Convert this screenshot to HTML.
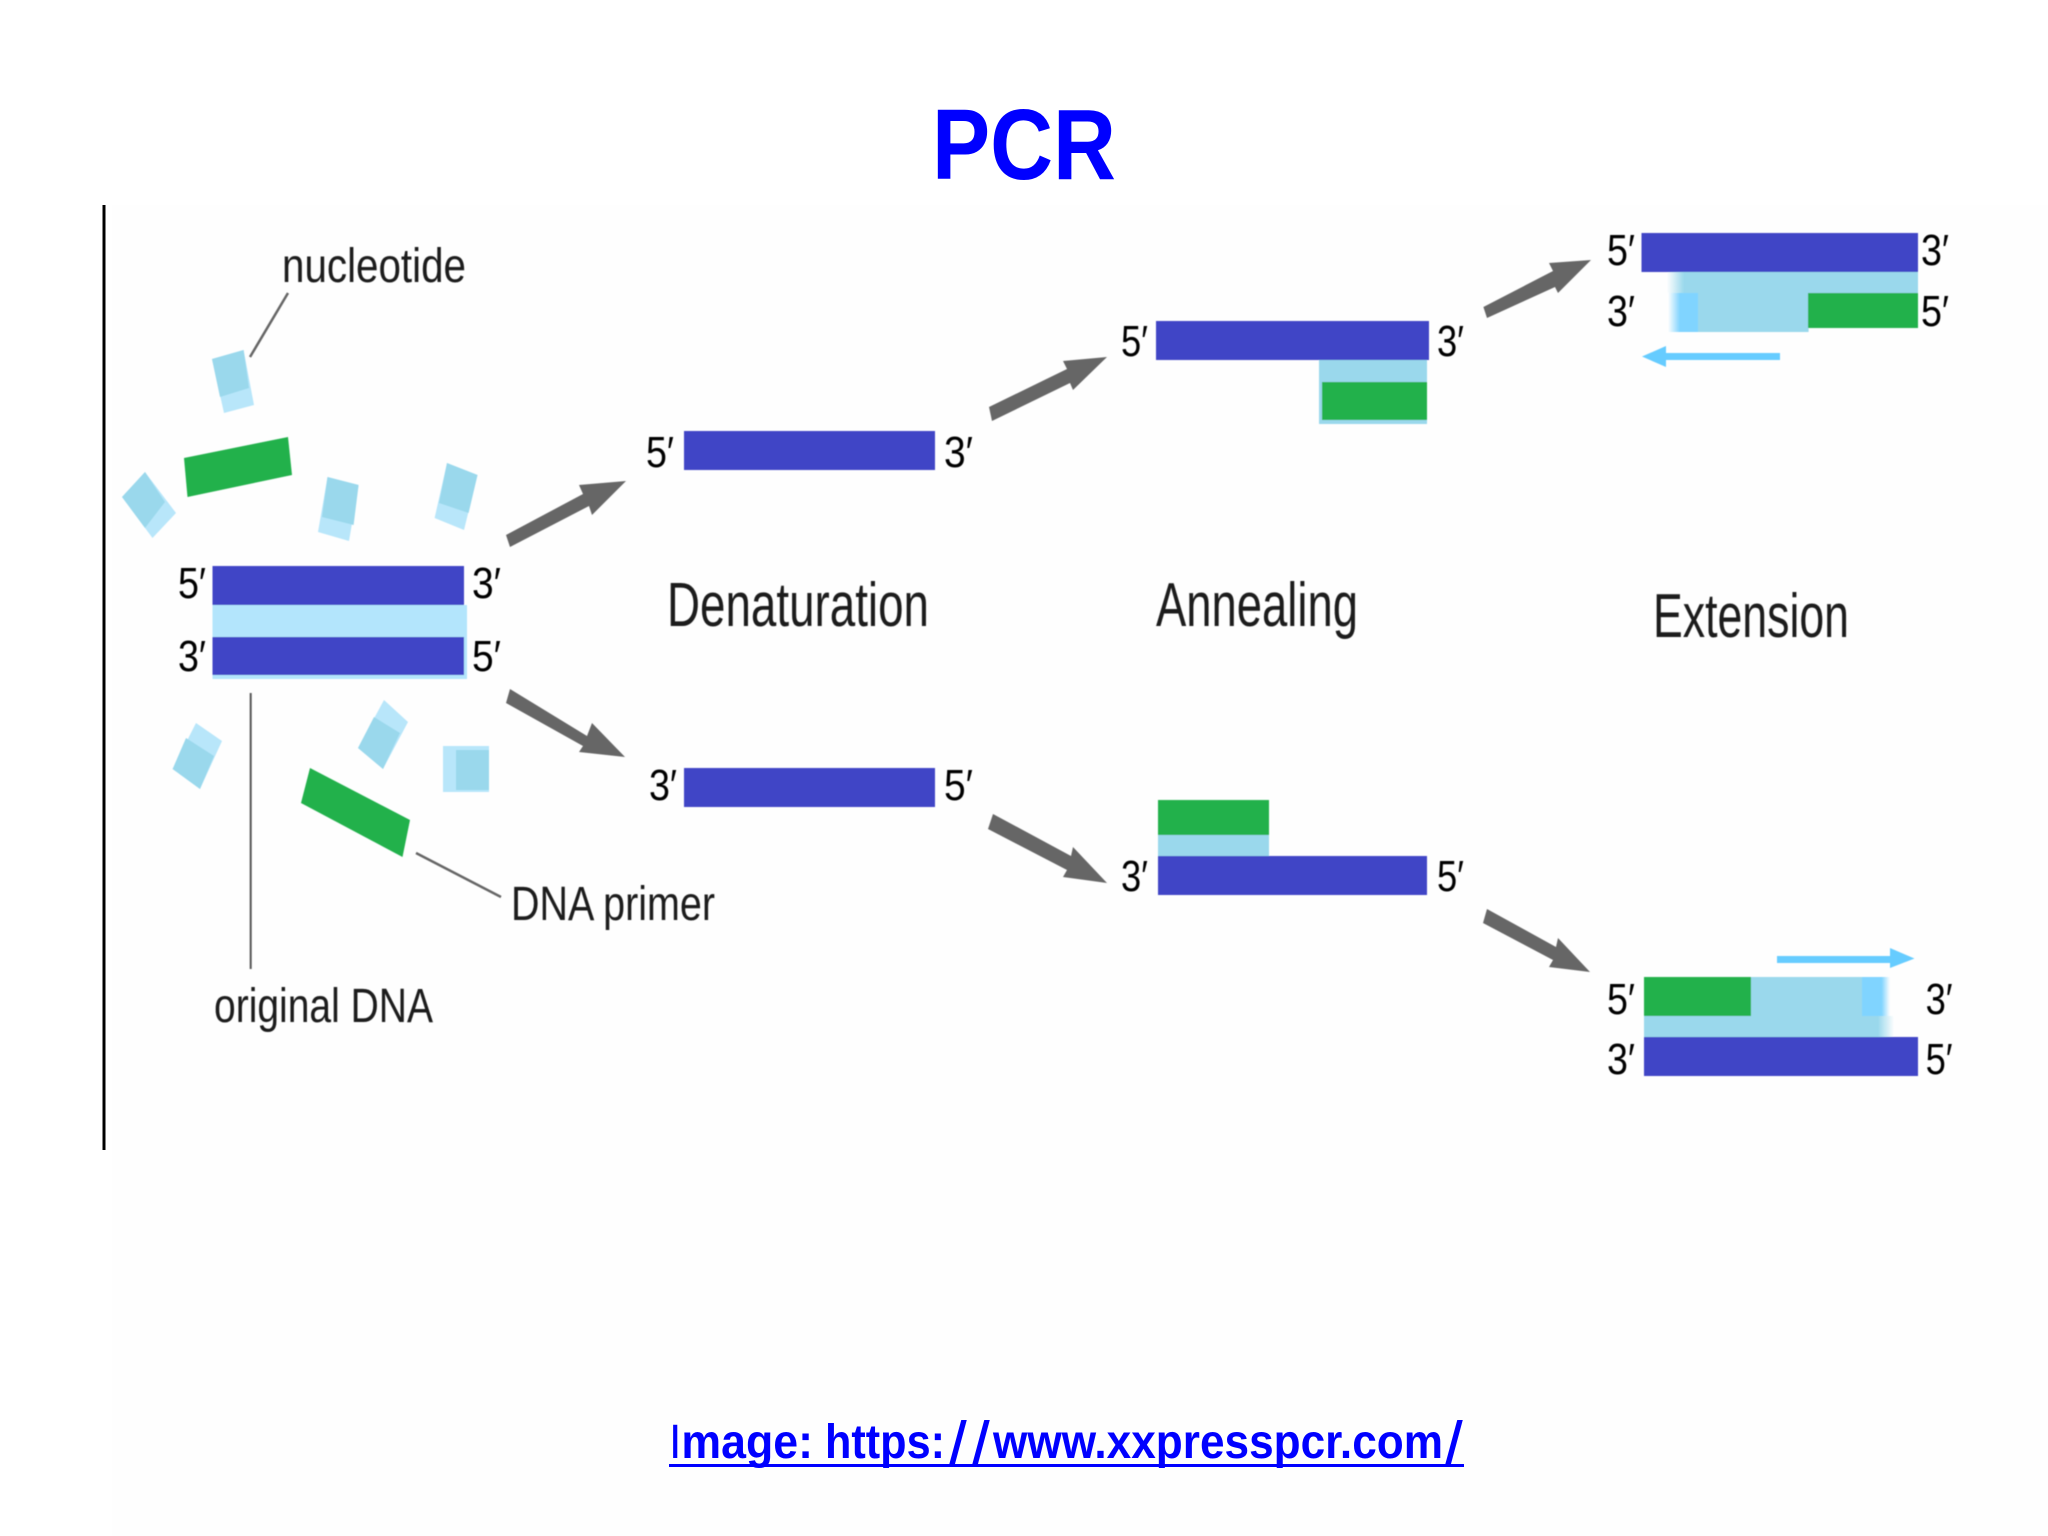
<!DOCTYPE html>
<html>
<head>
<meta charset="utf-8">
<title>PCR</title>
<style>
html,body{margin:0;padding:0;background:#fff;width:2048px;height:1536px;overflow:hidden}
svg{display:block}
text{font-family:"Liberation Sans",sans-serif}
.d{font-size:44px;fill:#000}
.l{font-size:48px;fill:#1c1c1c}
.h{font-size:62px;fill:#1c1c1c}
.u{font-size:48px;font-weight:bold;fill:#0000ff}
.s{font-size:58px;font-weight:normal;fill:#0000ff;stroke:#0000ff;stroke-width:1}
</style>
</head>
<body>
<svg width="2048" height="1536" viewBox="0 0 2048 1536" xmlns="http://www.w3.org/2000/svg">
<defs>
<linearGradient id="fl" x1="0" x2="1" y1="0" y2="0"><stop offset="0" stop-color="#9ad8ec" stop-opacity="0"/><stop offset="1" stop-color="#9ad8ec"/></linearGradient>
<linearGradient id="fr" x1="0" x2="1" y1="0" y2="0"><stop offset="0" stop-color="#9ad8ec"/><stop offset="1" stop-color="#9ad8ec" stop-opacity="0"/></linearGradient>
<linearGradient id="nl" x1="0" x2="1" y1="0" y2="0"><stop offset="0" stop-color="#80d4ff" stop-opacity="0"/><stop offset=".4" stop-color="#80d4ff"/><stop offset="1" stop-color="#80d4ff"/></linearGradient>
<linearGradient id="nr" x1="0" x2="1" y1="0" y2="0"><stop offset="0" stop-color="#80d4ff"/><stop offset=".7" stop-color="#80d4ff"/><stop offset="1" stop-color="#80d4ff" stop-opacity="0"/></linearGradient>
<filter id="b" x="-5%" y="-5%" width="110%" height="110%"><feGaussianBlur stdDeviation="0.6"/></filter>
</defs>

<rect width="2048" height="1536" fill="#fff"/>
<rect x="112" y="205" width="1936" height="1331" fill="#fefefe"/>

<!-- title -->
<text x="932" y="179" textLength="184" lengthAdjust="spacingAndGlyphs" style="font-size:100px;font-weight:bold;fill:#0000ff">PCR</text>

<!-- frame line -->
<rect x="102.500" y="205" width="3" height="945" fill="#000"/>

<g filter="url(#b)">
<!-- nucleotides -->
<polygon points="212,359 243.600,350 254,405 224,413" fill="#b8e6fa"/>
<polygon points="212,359 243.600,350 249,388 220,397" fill="#9ad8ec"/>

<polygon points="145,472 176,513 152.500,538 122,497" fill="#b8e6fa"/>
<polygon points="145,472 165,502 145,528 122,497" fill="#9ad8ec"/>

<polygon points="327.500,477 358.600,485 349,541 318,532" fill="#b8e6fa"/>
<polygon points="327.500,477 358.600,485 353.600,525 322,517" fill="#9ad8ec"/>

<polygon points="447,463 477.500,475 464,530 434.600,518" fill="#b8e6fa"/>
<polygon points="447,463 477.500,475 468.600,513 439,503" fill="#9ad8ec"/>

<polygon points="196,723 222,741 200,789 172.600,769" fill="#b8e6fa"/>
<polygon points="186,738 214,756 200,789 172.600,769" fill="#9ad8ec"/>

<polygon points="384,700 408,722 383,769 358,748" fill="#b8e6fa"/>
<polygon points="374,717 400,733 383,769 358,748" fill="#9ad8ec"/>

<rect x="443" y="746" width="46" height="46" fill="#b8e6fa"/>
<rect x="456" y="750" width="33" height="40" fill="#9ad8ec"/>

<!-- free primers -->
<polygon points="184,458 288,437 292,475 187.500,497" fill="#22b14c"/>
<polygon points="310,768 410,820 402.500,857 301,803" fill="#22b14c"/>

<!-- leader lines -->
<line x1="288" y1="293" x2="250" y2="357" stroke="#666" stroke-width="2.500"/>
<line x1="416" y1="853" x2="501" y2="897" stroke="#666" stroke-width="2.500"/>
<line x1="250.700" y1="693" x2="250.700" y2="969" stroke="#555" stroke-width="2"/>

<!-- original DNA -->
<rect x="212.500" y="605" width="254.500" height="74" fill="#b3e5fc"/>
<rect x="212.500" y="566" width="251.500" height="39" fill="#4045c6"/>
<rect x="212.500" y="637" width="251.500" height="38" fill="#4045c6"/>

<!-- denaturation -->
<rect x="684" y="431" width="251" height="39" fill="#4045c6"/>
<rect x="684" y="768" width="251" height="39" fill="#4045c6"/>

<!-- annealing top -->
<rect x="1319" y="360" width="108" height="64" fill="#9ad8ec"/>
<rect x="1322" y="382" width="105" height="38" fill="#22b14c"/>
<rect x="1156" y="321" width="273" height="39" fill="#4045c6"/>

<!-- annealing bottom -->
<rect x="1158" y="800" width="111" height="35" fill="#22b14c"/>
<rect x="1158" y="835" width="111" height="21" fill="#9ad8ec"/>
<rect x="1158" y="856" width="269" height="39" fill="#4045c6"/>

<!-- extension top -->
<rect x="1684" y="272" width="234" height="21" fill="#9ad8ec"/>
<rect x="1667" y="272" width="17" height="21" fill="url(#fl)"/>
<rect x="1697.600" y="293" width="111" height="39" fill="#9ad8ec"/>
<rect x="1668" y="293" width="30" height="39" fill="url(#nl)"/>
<rect x="1808" y="293" width="110" height="35" fill="#22b14c"/>
<rect x="1641.500" y="233" width="276.500" height="39" fill="#4045c6"/>
<!-- blue arrow top -->
<rect x="1660" y="353" width="120" height="7" fill="#66ccff"/>
<polygon points="1642,356.500 1666,346 1666,367" fill="#66ccff"/>

<!-- extension bottom -->
<rect x="1751" y="977" width="112" height="39" fill="#9ad8ec"/>
<rect x="1644" y="1016" width="234" height="21" fill="#9ad8ec"/>
<rect x="1878" y="1016" width="16" height="21" fill="url(#fr)"/>
<rect x="1862" y="977" width="28" height="39" fill="url(#nr)"/>
<rect x="1644" y="977" width="107" height="39" fill="#22b14c"/>
<rect x="1644" y="1037" width="274" height="39" fill="#4045c6"/>
<!-- blue arrow bottom -->
<rect x="1777" y="956" width="115" height="7" fill="#66ccff"/>
<polygon points="1914.500,958.500 1890,948 1890,968" fill="#66ccff"/>

<!-- grey arrows -->
<g fill="#666">
<polygon points="506,535 583,494 579,485 626,481 592,515 589,506 510,547"/>
<polygon points="510,689 587,736 592,723 625,757 579,752 583,746 506,703"/>
<polygon points="989,407 1067,369 1063,361 1107,357 1073,390 1070,383 992,421"/>
<polygon points="993,814 1071,856 1073,847 1107,883 1063,877 1067,870 988,829"/>
<polygon points="1483.400,307 1553,271 1549,263 1591,260 1558,293 1555,287 1487,318"/>
<polygon points="1487,909 1556,947 1558,938 1590,972 1549,967 1553,960 1483,923"/>
</g>

<!-- end labels -->
<g class="d">
<text class="d" x="178" y="598" textLength="28" lengthAdjust="spacingAndGlyphs">5′</text>
<text class="d" x="472" y="598" textLength="29" lengthAdjust="spacingAndGlyphs">3′</text>
<text class="d" x="178" y="671" textLength="28" lengthAdjust="spacingAndGlyphs">3′</text>
<text class="d" x="472" y="671" textLength="29" lengthAdjust="spacingAndGlyphs">5′</text>

<text class="d" x="646" y="467" textLength="28" lengthAdjust="spacingAndGlyphs">5′</text>
<text class="d" x="944" y="467" textLength="29" lengthAdjust="spacingAndGlyphs">3′</text>
<text class="d" x="649" y="800" textLength="28" lengthAdjust="spacingAndGlyphs">3′</text>
<text class="d" x="944" y="800" textLength="29" lengthAdjust="spacingAndGlyphs">5′</text>

<text class="d" x="1121" y="356" textLength="27" lengthAdjust="spacingAndGlyphs">5′</text>
<text class="d" x="1437" y="356" textLength="27" lengthAdjust="spacingAndGlyphs">3′</text>
<text class="d" x="1121" y="891" textLength="27" lengthAdjust="spacingAndGlyphs">3′</text>
<text class="d" x="1437" y="891" textLength="27" lengthAdjust="spacingAndGlyphs">5′</text>

<text class="d" x="1607" y="265" textLength="28" lengthAdjust="spacingAndGlyphs">5′</text>
<text class="d" x="1921" y="265" textLength="28" lengthAdjust="spacingAndGlyphs">3′</text>
<text class="d" x="1607" y="326" textLength="28" lengthAdjust="spacingAndGlyphs">3′</text>
<text class="d" x="1921" y="326" textLength="28" lengthAdjust="spacingAndGlyphs">5′</text>

<text class="d" x="1607" y="1014" textLength="28" lengthAdjust="spacingAndGlyphs">5′</text>
<text class="d" x="1925.600" y="1014" textLength="27" lengthAdjust="spacingAndGlyphs">3′</text>
<text class="d" x="1607" y="1074" textLength="28" lengthAdjust="spacingAndGlyphs">3′</text>
<text class="d" x="1925.600" y="1074" textLength="27" lengthAdjust="spacingAndGlyphs">5′</text>
</g>

<!-- labels -->
<text class="l" x="282" y="282" textLength="184" lengthAdjust="spacingAndGlyphs">nucleotide</text>
<text class="l" x="511" y="920" textLength="204" lengthAdjust="spacingAndGlyphs">DNA primer</text>
<text class="l" x="214" y="1022" textLength="219" lengthAdjust="spacingAndGlyphs">original DNA</text>
<text class="h" x="667" y="626" textLength="262" lengthAdjust="spacingAndGlyphs">Denaturation</text>
<text class="h" x="1156" y="626" textLength="202" lengthAdjust="spacingAndGlyphs">Annealing</text>
<text class="h" x="1653" y="637" textLength="196" lengthAdjust="spacingAndGlyphs">Extension</text>
</g>

<!-- source -->
<text class="u" x="669" y="1458" textLength="144" lengthAdjust="spacingAndGlyphs"><tspan style="font-weight:normal">I</tspan>mage:</text>
<text class="u" x="825" y="1458" textLength="120" lengthAdjust="spacingAndGlyphs">https:</text>
<text class="s" x="950" y="1463">/</text>
<text class="s" x="973" y="1463">/</text>
<text class="u" x="993" y="1458" textLength="450" lengthAdjust="spacingAndGlyphs">www.xxpresspcr.com</text>
<text class="s" x="1446" y="1463">/</text>
<rect x="669" y="1464" width="795" height="3" fill="#0000ff"/>
</svg>
</body>
</html>
